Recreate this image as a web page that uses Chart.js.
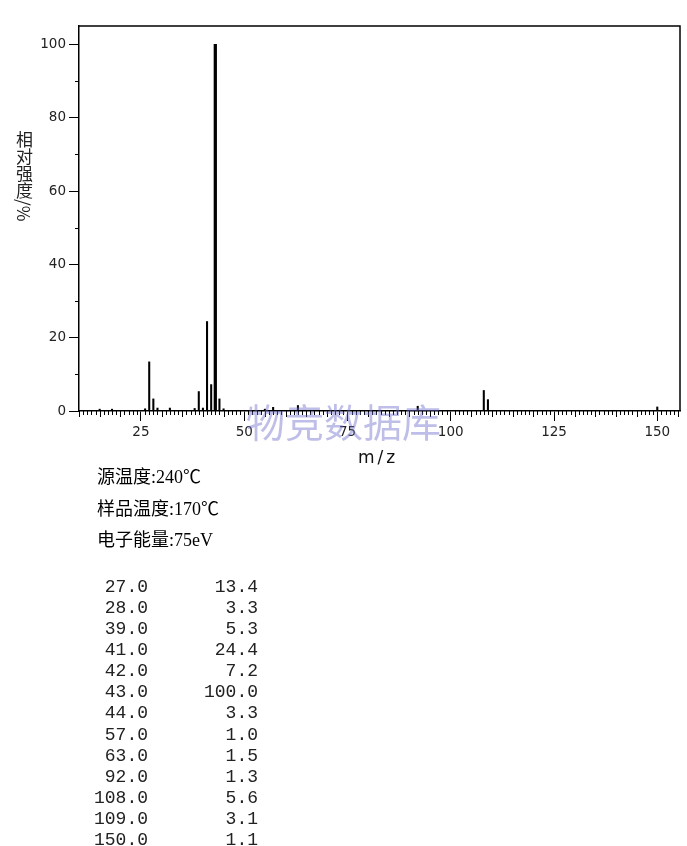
<!DOCTYPE html>
<html>
<head>
<meta charset="utf-8">
<script src="https://cdn.jsdelivr.net/npm/chart.js@4.4.1/dist/chart.umd.min.js"></script>
<style>
  body { margin: 0; background: #fff; }
  #wrap { position: relative; width: 687px; height: 846px; overflow: hidden; }
  canvas { position: absolute; left: 0; top: 0; }
  .ytitle { position: absolute; left: 15px; top: 131px; writing-mode: vertical-rl; font: 17px "Noto Sans CJK SC", sans-serif; color: #222; line-height: 19px; }
  .xtitle { position: absolute; left: 358px; top: 447px; font: 17px "DejaVu Sans", sans-serif; letter-spacing: 3px; color: #111; }
  .mark { position: absolute; left: 246px; top: 397px; font: 39px "Noto Sans CJK SC", sans-serif; color: rgba(110, 110, 205, 0.45); line-height: 46px; }
  .info { position: absolute; left: 97px; font: 18px "Liberation Serif", "Noto Sans CJK SC", serif; line-height: 20px; color: #000; }
  .cell { position: absolute; font: 18px "Liberation Mono", monospace; line-height: 20px; text-align: right; color: #222; }
</style>
</head>
<body>
<div id="wrap">
  <canvas id="ms" width="687" height="470"></canvas>
  <div class="ytitle">相对强度/%</div>
  <div class="xtitle">m/z</div>
  <div class="mark">物竞数据库</div>
  <div id="notes"></div>
</div>
<script>
// 质谱峰 (表中列出的)
const peakMz = [27, 28, 39, 41, 42, 43, 44, 57, 63, 92, 108, 109, 150];
const peakInt = [13.4, 3.3, 5.3, 24.4, 7.2, 100.0, 3.3, 1.0, 1.5, 1.3, 5.6, 3.1, 1.1];
// 图中的小峰 (表中未列出, 估计值)
const smallMz = [15, 18, 26, 29, 32, 38, 40, 45, 55];
const smallInt = [0.5, 0.5, 0.6, 0.8, 0.8, 0.7, 0.8, 0.6, 0.5];
const xTicks = [25, 50, 75, 100, 125, 150];
const yTicks = [0, 20, 40, 60, 80, 100];
const notes = ['源温度:240℃', '样品温度:170℃', '电子能量:75eV'];

// 文字
const box = document.getElementById('notes');
notes.forEach((t, i) => {
  const d = document.createElement('div');
  d.className = 'info';
  d.style.top = (467 + i * 31.5) + 'px';
  d.textContent = t;
  box.appendChild(d);
});
peakMz.forEach((m, i) => {
  const top = 577 + i * 21.08;
  const a = document.createElement('div');
  a.className = 'cell';
  a.style.top = top + 'px';
  a.style.left = '60px'; a.style.width = '88px';
  a.textContent = m.toFixed(1);
  const b = document.createElement('div');
  b.className = 'cell';
  b.style.top = top + 'px';
  b.style.left = '170px'; b.style.width = '88px';
  b.textContent = peakInt[i].toFixed(1);
  box.appendChild(a); box.appendChild(b);
});

const basePeak = peakInt.indexOf(Math.max(...peakInt));
const mainPts = [];
peakMz.forEach((m, i) => { if (i !== basePeak) mainPts.push({ x: m, y: peakInt[i] }); });
smallMz.forEach((m, i) => mainPts.push({ x: m, y: smallInt[i] }));

// 小刻度和外框
const extras = {
  id: 'extras',
  afterDraw(chart) {
    const { ctx, chartArea: a } = chart;
    const xs = chart.scales.x, ys = chart.scales.y;
    ctx.save();
    ctx.strokeStyle = '#000';
    ctx.lineWidth = 1;
    ctx.beginPath();
    for (let v = 10; v <= 155; v++) {
      if (v % 25 === 0) continue;
      const px = Math.round(xs.getPixelForValue(v)) + 0.5;
      const len = v % 5 === 0 ? 6 : 4;
      ctx.moveTo(px, a.bottom);
      ctx.lineTo(px, a.bottom + len);
    }
    for (let v = 10; v < 105; v += 20) {
      const py = Math.round(ys.getPixelForValue(v)) + 0.5;
      ctx.moveTo(a.left, py);
      ctx.lineTo(a.left - 4, py);
    }
    ctx.stroke();
    ctx.lineWidth = 1.5;
    ctx.beginPath();
    ctx.moveTo(a.left, a.top);
    ctx.lineTo(a.right, a.top);
    ctx.lineTo(a.right, a.bottom);
    ctx.stroke();
    ctx.restore();
  }
};

new Chart(document.getElementById('ms'), {
  type: 'bar',
  data: {
    datasets: [
      { data: mainPts, backgroundColor: '#000', barThickness: 1.4, grouped: false },
      { data: [{ x: peakMz[basePeak], y: peakInt[basePeak] }], backgroundColor: '#000', barThickness: 2.6, grouped: false }
    ]
  },
  options: {
    responsive: false,
    animation: false,
    devicePixelRatio: 1,
    layout: { padding: { left: 0, top: 26, right: 7, bottom: 0 } },
    plugins: { legend: { display: false }, tooltip: { enabled: false } },
    scales: {
      x: {
        type: 'linear',
        min: 10,
        max: 155.5,
        offset: false,
        afterFit: s => { s.height = 59; },
        afterBuildTicks: s => { s.ticks = xTicks.map(v => ({ value: v })); },
        grid: { offset: false, drawOnChartArea: false, drawTicks: true, tickLength: 10, color: '#000', lineWidth: 1 },
        border: { display: true, color: '#000', width: 1.5 },
        ticks: { autoSkip: false, maxRotation: 0, padding: 3, color: '#222', font: { family: 'DejaVu Sans', size: 13.5 } }
      },
      y: {
        min: 0,
        max: 105,
        afterFit: s => { s.width = 79; },
        afterBuildTicks: s => { s.ticks = yTicks.map(v => ({ value: v })); },
        grid: { drawOnChartArea: false, drawTicks: true, tickLength: 10, color: '#000', lineWidth: 1 },
        border: { display: true, color: '#000', width: 1.5 },
        ticks: { padding: 3, color: '#222', font: { family: 'DejaVu Sans', size: 13.5 } }
      }
    }
  },
  plugins: [extras]
});
</script>
</body>
</html>
